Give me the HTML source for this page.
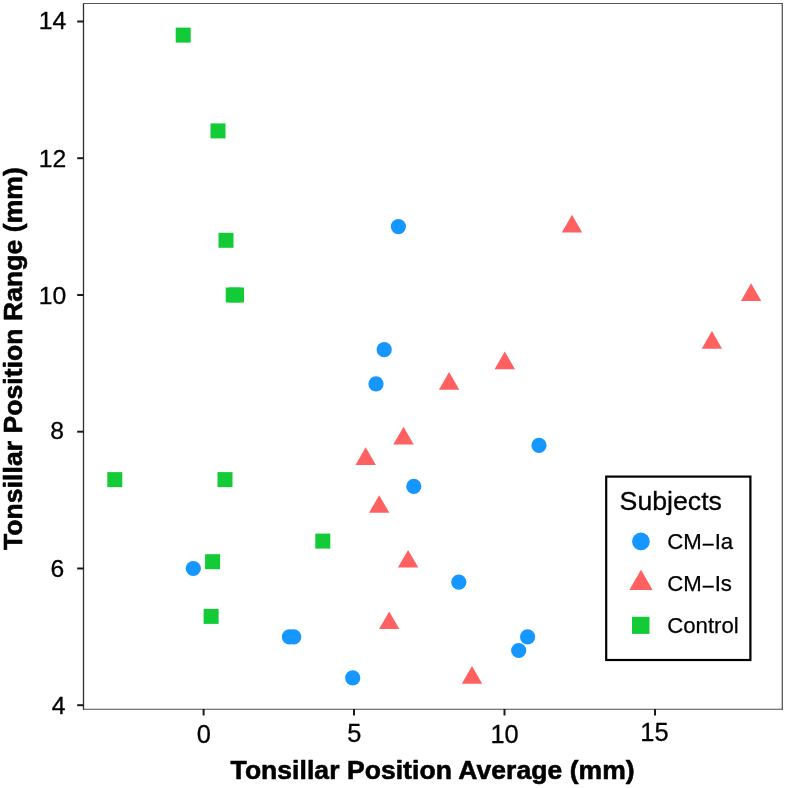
<!DOCTYPE html>
<html><head><meta charset="utf-8"><title>Tonsillar Position</title>
<style>
html,body{margin:0;padding:0;background:#fff;}
body{width:785px;height:788px;overflow:hidden;}
svg{display:block;}
text{font-family:"Liberation Sans",Arial,Helvetica,sans-serif;fill:#000;}
.tick{font-size:24.7px;stroke:#000;stroke-width:0.3px;}
.xt{font-size:25.4px;}
.ttl{font-size:26.5px;font-weight:bold;stroke:#000;stroke-width:0.6px;stroke-linejoin:round;}
.lt{font-size:26.7px;stroke:#000;stroke-width:0.3px;}
.ll{font-size:22.2px;stroke:#000;stroke-width:0.25px;}
</style></head><body>
<svg width="785" height="788" viewBox="0 0 785 788">
<rect x="0" y="0" width="785" height="788" fill="#fff"/>
<line x1="83.5" x2="83.5" y1="3" y2="709.8" stroke="#2e2e2e" stroke-width="1.3"/>
<line x1="83" x2="782.9" y1="3.45" y2="3.45" stroke="#585858" stroke-width="1.05"/>
<line x1="782.3" x2="782.3" y1="3" y2="709.8" stroke="#585858" stroke-width="1.3"/>
<line x1="83" x2="782.9" y1="709.25" y2="709.25" stroke="#4d4d4d" stroke-width="1.2"/>
<line x1="77.2" x2="83.7" y1="705.2" y2="705.2" stroke="#1a1a1a" stroke-width="2"/>
<text class="tick" x="65.5" y="713.8" text-anchor="end">4</text>
<line x1="77.2" x2="83.7" y1="568.5" y2="568.5" stroke="#1a1a1a" stroke-width="2"/>
<text class="tick" x="64.3" y="576.7" text-anchor="end">6</text>
<line x1="77.2" x2="83.7" y1="431.7" y2="431.7" stroke="#1a1a1a" stroke-width="2"/>
<text class="tick" x="64.0" y="439.0" text-anchor="end">8</text>
<line x1="77.2" x2="83.7" y1="295.0" y2="295.0" stroke="#1a1a1a" stroke-width="2"/>
<text class="tick" x="66.3" y="303.6" text-anchor="end">10</text>
<line x1="77.2" x2="83.7" y1="158.2" y2="158.2" stroke="#1a1a1a" stroke-width="2"/>
<text class="tick" x="66.3" y="166.7" text-anchor="end">12</text>
<line x1="77.2" x2="83.7" y1="21.5" y2="21.5" stroke="#1a1a1a" stroke-width="2"/>
<text class="tick" x="66.3" y="28.9" text-anchor="end">14</text>
<line x1="203.6" x2="203.6" y1="709.0" y2="715.5" stroke="#1a1a1a" stroke-width="2"/>
<text class="tick xt" x="203.9" y="742.6" text-anchor="middle">0</text>
<line x1="354.0" x2="354.0" y1="709.0" y2="715.5" stroke="#1a1a1a" stroke-width="2"/>
<text class="tick xt" x="354.3" y="742.1" text-anchor="middle">5</text>
<line x1="504.5" x2="504.5" y1="709.0" y2="715.5" stroke="#1a1a1a" stroke-width="2"/>
<text class="tick xt" x="504.6" y="742.5" text-anchor="middle">10</text>
<line x1="655.0" x2="655.0" y1="709.0" y2="715.5" stroke="#1a1a1a" stroke-width="2"/>
<text class="tick xt" x="654.4" y="741.4" text-anchor="middle">15</text>
<rect x="175.7" y="27.6" width="15.0" height="15.0" fill="#13CB37"/>
<rect x="210.5" y="123.4" width="15.0" height="15.0" fill="#13CB37"/>
<rect x="218.5" y="232.8" width="15.0" height="15.0" fill="#13CB37"/>
<rect x="225.7" y="287.5" width="15.0" height="15.0" fill="#13CB37"/>
<rect x="229.0" y="287.5" width="15.0" height="15.0" fill="#13CB37"/>
<rect x="107.3" y="472.1" width="15.0" height="15.0" fill="#13CB37"/>
<rect x="217.5" y="472.1" width="15.0" height="15.0" fill="#13CB37"/>
<rect x="315.3" y="533.6" width="15.0" height="15.0" fill="#13CB37"/>
<rect x="205.1" y="554.2" width="15.0" height="15.0" fill="#13CB37"/>
<rect x="203.6" y="608.9" width="15.0" height="15.0" fill="#13CB37"/>
<circle cx="398.4" cy="226.6" r="7.6" fill="#1597FF"/>
<circle cx="384.2" cy="349.7" r="7.6" fill="#1597FF"/>
<circle cx="376.0" cy="383.9" r="7.6" fill="#1597FF"/>
<circle cx="539.0" cy="445.4" r="7.6" fill="#1597FF"/>
<circle cx="413.8" cy="486.4" r="7.6" fill="#1597FF"/>
<circle cx="193.3" cy="568.5" r="7.6" fill="#1597FF"/>
<circle cx="458.8" cy="582.2" r="7.6" fill="#1597FF"/>
<circle cx="289.4" cy="636.9" r="7.6" fill="#1597FF"/>
<circle cx="293.7" cy="636.9" r="7.6" fill="#1597FF"/>
<circle cx="527.6" cy="636.9" r="7.6" fill="#1597FF"/>
<circle cx="518.7" cy="650.5" r="7.6" fill="#1597FF"/>
<circle cx="352.7" cy="677.9" r="7.6" fill="#1597FF"/>
<polygon points="572.0,214.8 561.8,232.5 582.2,232.5" fill="#FF6060"/>
<polygon points="751.1,283.2 740.9,300.9 761.3,300.9" fill="#FF6060"/>
<polygon points="711.9,331.1 701.7,348.7 722.1,348.7" fill="#FF6060"/>
<polygon points="504.8,351.6 494.6,369.2 515.0,369.2" fill="#FF6060"/>
<polygon points="449.1,372.1 438.9,389.8 459.3,389.8" fill="#FF6060"/>
<polygon points="403.5,426.8 393.3,444.5 413.7,444.5" fill="#FF6060"/>
<polygon points="365.7,447.3 355.5,465.0 375.9,465.0" fill="#FF6060"/>
<polygon points="379.2,495.2 369.0,512.8 389.4,512.8" fill="#FF6060"/>
<polygon points="408.1,549.9 397.9,567.5 418.3,567.5" fill="#FF6060"/>
<polygon points="389.2,611.4 379.0,629.1 399.4,629.1" fill="#FF6060"/>
<polygon points="472.0,666.1 461.8,683.8 482.2,683.8" fill="#FF6060"/>
<rect x="606.2" y="476.6" width="144.2" height="183.4" fill="#fff" stroke="#000" stroke-width="2.2"/>
<text class="lt" x="619.6" y="509.7">Subjects</text>
<circle cx="640.9" cy="541.4" r="8.85" fill="#1597FF"/>
<polygon points="641.0,569.8 629.4,589.9 652.6,589.9" fill="#FF6060"/>
<rect x="632" y="616.8" width="17.5" height="17.1" fill="#13CB37"/>
<text class="ll" x="667.2" y="549">CM<tspan dy="2.7">−</tspan><tspan dy="-2.7">Ia</tspan></text>
<text class="ll" x="667.2" y="591">CM<tspan dy="2.7">−</tspan><tspan dy="-2.7">Is</tspan></text>
<text class="ll" x="667.2" y="633">Control</text>
<text class="ttl" x="432.6" y="778.6" text-anchor="middle" textLength="404" lengthAdjust="spacing">Tonsillar Position Average (mm)</text>
<text class="ttl" transform="translate(21.6,358.6) rotate(-90)" text-anchor="middle" textLength="382.7" lengthAdjust="spacing">Tonsillar Position Range (mm)</text>
</svg></body></html>
